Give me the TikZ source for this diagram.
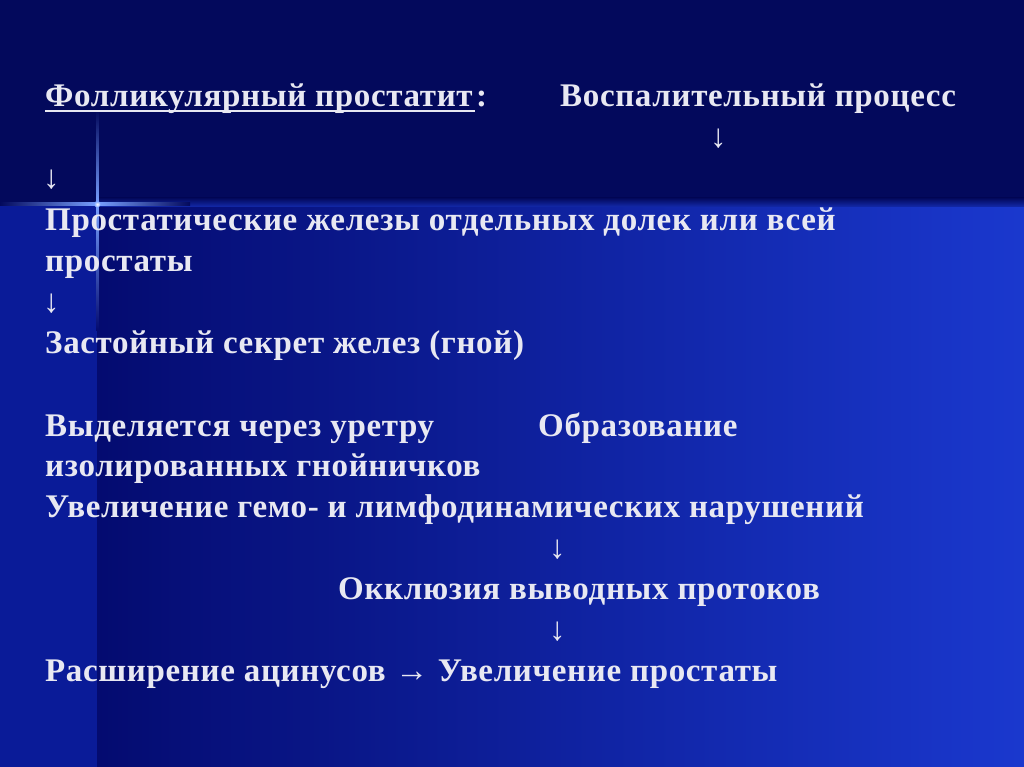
\documentclass[tikz,border=0pt]{standalone}
\usepackage{fontspec}
\setmainfont{Liberation Serif}[LetterSpace=2.0]
\begin{document}
\begin{tikzpicture}[x=1pt,y=-1pt,
  txt/.style={anchor=base west,inner sep=0pt,text=textc,font=\fontsize{33}{41}\selectfont\bfseries},
  arr/.style={anchor=base west,inner sep=0pt,text=textc,font=\fontsize{33}{41}\selectfont},
  uline/.style={draw=textc,line width=2pt}]
\definecolor{band}{RGB}{3,9,92}
\definecolor{mainl}{RGB}{4,11,112}
\definecolor{mainr}{RGB}{26,56,206}
\definecolor{stripe}{RGB}{10,27,152}
\definecolor{textc}{RGB}{232,232,242}
\definecolor{flare}{RGB}{120,160,255}
\useasboundingbox (0,0) rectangle (1024,767);
% background
\fill[band] (0,0) rectangle (1024,205);
\shade[left color=mainl,right color=mainr] (97,205) rectangle (1024,767);
\fill[stripe] (0,205) rectangle (97,767);
\shade[top color=band,bottom color=mainr!70!band] (97,198) rectangle (1024,207);
% lens flare
\shade[top color=band,bottom color=flare] (96,110) rectangle (98.6,204);
\shade[top color=flare,bottom color=mainl] (96,204) rectangle (98.6,330);
\shade[left color=band,right color=flare] (0,202.8) rectangle (97,205.6);
\shade[left color=flare,right color=band] (97,202.8) rectangle (190,205.6);
\shade[inner color=white,outer color=flare] (97.3,204.2) circle (3.2);
% texts
\node[txt] (t1) at (45,107) {Фолликулярный простатит};
\node[txt,anchor=base west] (t1c) at ([xshift=3pt]t1.base east) {:};
\draw[uline] ([yshift=-4.5pt]t1.base west) -- ([yshift=-4.5pt,xshift=2pt]t1.base east);
\node[txt] (t2) at (560,107) {Воспалительный процесс};
\node[arr] (a1) at (710,148) {↓};
\node[arr] (a2) at (43,189) {↓};
\node[txt] (t3) at (45,230) {Простатические железы отдельных долек или всей};
\node[txt] (t4) at (45,271) {простаты};
\node[arr] (a3) at (43,312) {↓};
\node[txt] (t5) at (45,353) {Застойный секрет желез (гной)};
\node[txt] (t6) at (45,436) {Выделяется через уретру};
\node[txt] (t7) at (538,436) {Образование};
\node[txt] (t8) at (45,476) {изолированных гнойничков};
\node[txt] (t9) at (45,517) {Увеличение гемо- и лимфодинамических нарушений};
\node[arr] (a4) at (549,558) {↓};
\node[txt] (t10) at (338,599) {Окклюзия выводных протоков};
\node[arr] (a5) at (549,640) {↓};
\node[txt] (t11) at (45,681) {Расширение ацинусов \textmd{→} Увеличение простаты};
\end{tikzpicture}
\end{document}
